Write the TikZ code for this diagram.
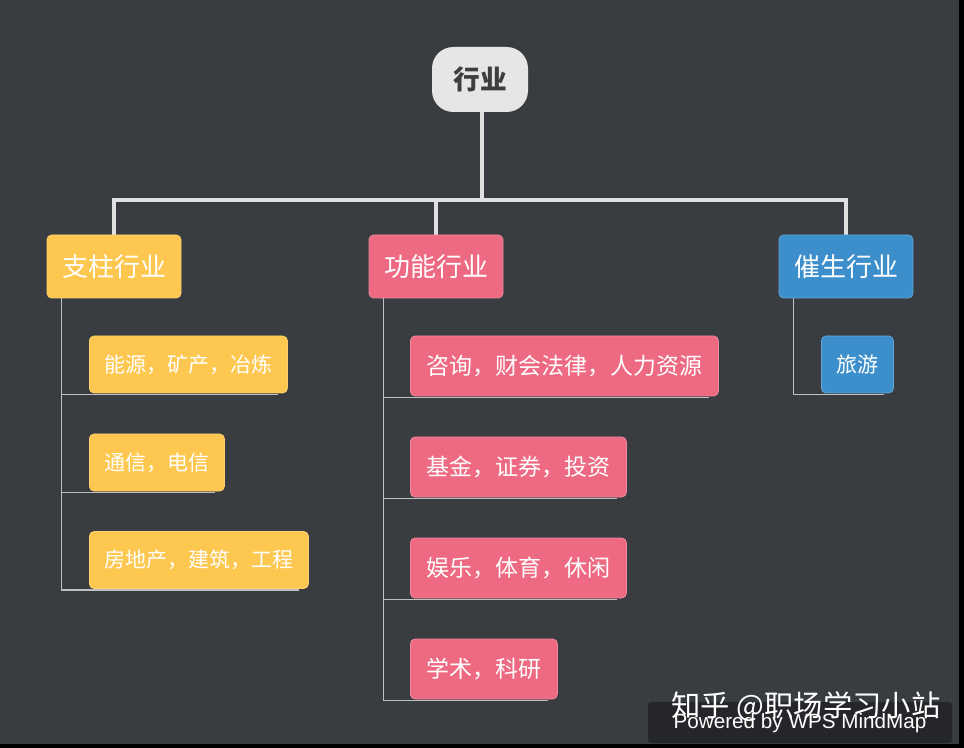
\documentclass[tikz,border=0pt]{standalone}
\usepackage{fontspec}
\setmainfont{Liberation Sans}
\newfontfamily\cjk{Noto Sans CJK SC}
\usetikzlibrary{backgrounds}
\definecolor{bg}{RGB}{57,60,65}
\definecolor{rootfill}{RGB}{230,230,230}
\definecolor{rootink}{RGB}{62,62,62}
\definecolor{pillar}{RGB}{254,200,80}
\definecolor{func}{RGB}{238,106,130}
\definecolor{spawn}{RGB}{61,143,204}
\definecolor{wire}{RGB}{224,224,224}
\definecolor{twig}{RGB}{192,192,194}
\definecolor{mark}{RGB}{36,38,41}

\begin{document}
\begin{tikzpicture}[x=0.75pt, y=-0.75pt,
  font=\cjk,
  root/.style={fill=rootfill, text=rootink, rounded corners=16pt,
               minimum width=72pt, minimum height=48.75pt, inner sep=0pt,
               font=\cjk\bfseries\fontsize{20}{24}\selectfont},
  cat/.style={text=white, rounded corners=3.5pt, line width=.6pt,
              minimum width=100.5pt, minimum height=47.25pt, inner sep=0pt,
              font=\cjk\fontsize{19.5}{23}\selectfont},
  leaf/.style={text=white, rounded corners=3.5pt, anchor=west, line width=.6pt,
               inner xsep=11.25pt, inner ysep=0pt, minimum height=42.75pt,
               font=\cjk\fontsize{15.75}{19}\selectfont},
  bigleaf/.style={leaf, inner xsep=12pt, minimum height=45pt,
                  font=\cjk\fontsize{17.25}{21}\selectfont},
  wirel/.style={draw=wire, line width=3pt},
  twigl/.style={draw=twig, line width=1.1pt},
]
\useasboundingbox (0,0) rectangle (964,748);

% root and the three groups
\node[root] (hy) at (480,79.5) {行业};
\node[cat, fill=pillar, draw=pillar!85!white] (zz) at (114,266.5) {支柱行业};
\node[cat, fill=func, draw=func!80!white]     (gn) at (436,266.5) {功能行业};
\node[cat, fill=spawn, draw=spawn!80!white]   (cs) at (846,266.5) {催生行业};

% pillar leaves
\node[leaf, fill=pillar, draw=pillar!85!white] (zz1) at (89,364.5) {能源，矿产，冶炼};
\node[leaf, fill=pillar, draw=pillar!85!white] (zz2) at (89,462.5) {通信，电信};
\node[leaf, fill=pillar, draw=pillar!85!white] (zz3) at (89,560)   {房地产，建筑，工程};

% function leaves
\node[bigleaf, fill=func, draw=func!80!white] (gn1) at (410,366) {咨询，财会法律，人力资源};
\node[bigleaf, fill=func, draw=func!80!white] (gn2) at (410,467) {基金，证券，投资};
\node[bigleaf, fill=func, draw=func!80!white] (gn3) at (410,568) {娱乐，体育，休闲};
\node[bigleaf, fill=func, draw=func!80!white] (gn4) at (410,669) {学术，科研};

% spawned leaf
\node[leaf, fill=spawn, draw=spawn!80!white] (cs1) at (821,364.5) {旅游};

\begin{scope}[on background layer]
  \fill[black] (0,0) rectangle (964,748);
  \fill[bg] (0,0) rectangle (959,744);
  \coordinate (bus) at (482,200);
  \draw[wirel] (hy.south -| bus) -- (bus);
  \draw[wirel] (bus) -| (zz.north);
  \draw[wirel] (bus) -| (gn.north);
  \draw[wirel] (bus) -| (cs.north);
  % trunks
  \coordinate (zzT) at ([xshift=11.25pt]zz.south west);
  \coordinate (gnT) at ([xshift=11.25pt]gn.south west);
  \coordinate (csT) at ([xshift=11.25pt]cs.south west);
  \draw[twigl] (zzT) |- ([xshift=-7.5pt,yshift=-.8pt]zz3.south east);
  \draw[twigl] ([yshift=-.8pt]zzT |- zz1.south) -- ([xshift=-7.5pt,yshift=-.8pt]zz1.south east);
  \draw[twigl] ([yshift=-.8pt]zzT |- zz2.south) -- ([xshift=-7.5pt,yshift=-.8pt]zz2.south east);
  \draw[twigl] (gnT) |- ([xshift=-7.5pt,yshift=-.8pt]gn4.south east);
  \foreach \k in {1,2,3}
    \draw[twigl] ([yshift=-.8pt]gnT |- gn\k.south) -- ([xshift=-7.5pt,yshift=-.8pt]gn\k.south east);
  \draw[twigl] (csT) |- ([xshift=-7.5pt,yshift=-.8pt]cs1.south east);
\end{scope}

% watermark
\node[fill=mark, rounded corners=2pt, minimum width=228pt, minimum height=30.75pt,
      inner sep=0pt] (wm) at (800,722.5) {};
\node[text=white, font=\cjk\fontsize{22}{24}\selectfont, inner sep=0pt] (zh) at (806,707) {知乎 @职场学习小站};
\node[text=white, font=\fontsize{15.5}{17}\selectfont, inner sep=0pt] (wps) at (800,723) {Powered by WPS MindMap};
\end{tikzpicture}
\end{document}
